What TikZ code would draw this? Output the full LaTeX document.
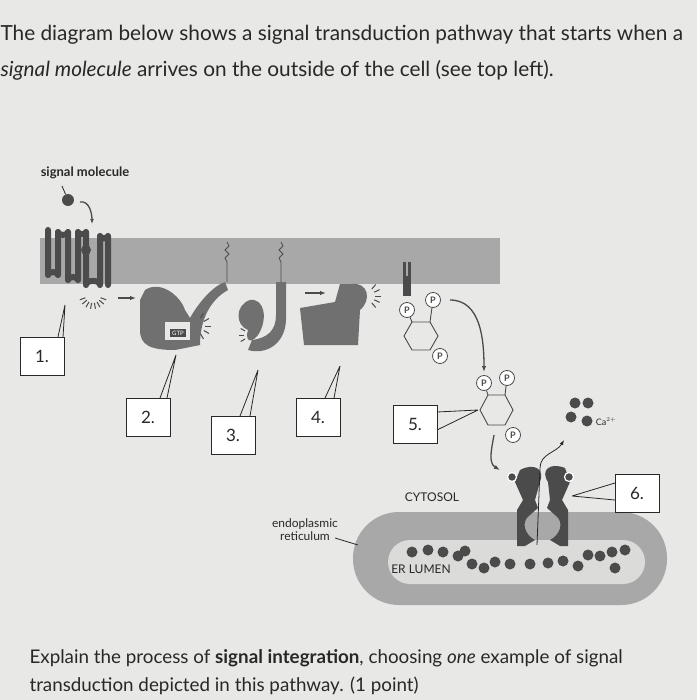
\documentclass[tikz,border=0pt]{standalone}
\usepackage{fontspec}
\setmainfont{Lato}
\usetikzlibrary{arrows.meta}
\definecolor{bg}{RGB}{232,232,230}
\definecolor{mem}{RGB}{168,168,168}
\definecolor{prot}{RGB}{112,112,112}
\definecolor{dark}{RGB}{75,75,75}
\definecolor{txt}{RGB}{40,40,40}
\tikzset{
 lbl/.style={draw=txt,fill=white,line width=1pt,minimum width=44pt,minimum height=38pt,font=\fontsize{17}{17}\selectfont,text=txt},
 pc/.style={circle,draw=dark,fill=white,line width=0.8pt,inner sep=0pt,minimum size=15pt,font=\fontsize{9}{9}\selectfont\bfseries,text=dark},
 small/.style={font=\fontsize{12}{13}\selectfont,text=txt,align=center},
 arr/.style={-{Latex[length=6pt]},line width=1.5pt,draw=dark},
 ca/.style={circle,fill=dark,inner sep=0pt,minimum size=11pt},
 pt/.style={line width=0.8pt,draw=txt}
}
\begin{document}
\begin{tikzpicture}[x=1pt,y=-1pt]
\fill[bg] (0,0) rectangle (697,700);
\useasboundingbox (0,0) rectangle (697,700);
\node[anchor=west,font=\fontsize{20.8}{22}\selectfont,text=txt] (t1) at (-3,35) {The diagram below shows a signal transduction pathway that starts when a};
\node[anchor=west,font=\fontsize{20.8}{22}\selectfont,text=txt] (t2) at (-3,70) {\textit{signal molecule} arrives on the outside of the cell (see top left).};
\node[anchor=west,font=\fontsize{18.8}{20}\selectfont,text=txt] (b1) at (26,658) {Explain the process of \textbf{signal integration}, choosing \textit{one} example of signal};
\node[anchor=west,font=\fontsize{18.8}{20}\selectfont,text=txt] (b2) at (26,686) {transduction depicted in this pathway. (1 point)};
% membrane
\fill[mem] (40,238) rectangle (500,284);
% signal molecule
\node[small,font=\fontsize{13}{13}\selectfont\bfseries] (sm) at (85,173) {signal molecule};
\node[circle,fill=dark,minimum size=12pt,inner sep=0pt] (lig) at (68,200) {};
\draw[pt] (62,186) -- (lig);
\coordinate (ligt) at (92,224);
\draw[-{Latex[length=5pt]},line width=1.3pt,dark] (80,202) to[out=10,in=90] (ligt);
% receptor
\draw[dark,line width=6pt,line cap=round,line join=round]
 (48,230) -- (48,275) to[out=90,in=90] (58,275) -- (58,232) to[out=-90,in=-90] (68,232) -- (68,280) to[out=90,in=90] (78,280) -- (78,232) to[out=-90,in=-90] (86,232) -- (86,285) to[out=90,in=90] (100,285) -- (100,236) to[out=-90,in=-90] (108,236) -- (108,285);
\fill[dark] (86,250) circle (5);
\foreach \a in {200,220,...,340}{\draw[dark,line width=1pt] (93,295)++(\a:-8) -- ++(\a:-6);}
% G protein
\draw[arr] (118,298) -- (136,298);
\fill[prot] (145,290) .. controls (160,280) and (180,295) .. (185,310) -- (190,318) .. controls (200,300) and (215,285) .. (225,282) -- (228,290) .. controls (210,300) and (200,320) .. (200,345) -- (175,350) .. controls (150,350) and (140,345) .. (140,330) -- (140,300) -- cycle;
\fill[bg] (165,322) rectangle (190,340);
\node[fill=dark,text=white,font=\fontsize{6}{6}\selectfont,inner sep=2pt] (gtp) at (178,333) {GTP};
\draw[dark,line width=0.8pt] (227,282) -- (227,262) -- (225,258) -- (229,254) -- (225,250) -- (229,246) -- (227,242);
\foreach \a in {-60,-30,0,30,60}{\draw[dark,line width=1pt] (196,326)++(\a:9) -- ++(\a:6);}
% 3: alpha + beta-gamma
\fill[prot] (250,300) .. controls (265,298) and (268,320) .. (258,335) .. controls (250,345) and (245,340) .. (248,330) .. controls (235,325) and (235,305) .. (250,300) -- cycle;
\fill[prot] (276,282) -- (286,282) -- (286,320) .. controls (285,345) and (265,355) .. (248,350) -- (252,340) .. controls (268,338) and (276,330) .. (276,315) -- cycle;
\draw[dark,line width=0.8pt] (281,282) -- (281,262) -- (279,258) -- (283,254) -- (279,250) -- (283,246) -- (281,242);
\foreach \a in {150,180,210}{\draw[dark,line width=1pt] (252,335)++(\a:8) -- ++(\a:5);}
\draw[arr] (305,293) -- (326,293);
% 4: enzyme
\fill[prot] (300,308) -- (335,302) -- (340,284) -- (352,284) .. controls (368,282) and (372,300) .. (360,310) -- (358,345) -- (304,345) -- cycle;
\foreach \a in {-50,-25,0,25,50}{\draw[dark,line width=1pt] (366,296)++(\a:9) -- ++(\a:6);}
% PIP2
\fill[dark] (403,262) rectangle (411,296);
\fill[mem] (406,262) rectangle (408,276);
\node[pc] (p1) at (407,310) {P};
\node[pc] (p2) at (433,300) {P};
\draw[dark,line width=0.9pt] (412,322) -- (430,322) -- (438,336) -- (430,350) -- (412,350) -- (404,336) -- cycle;
\draw[dark,line width=0.9pt] (430,322) -- (p2);
\draw[dark,line width=0.9pt] (412,322) -- (p1);
\node[pc] (p3) at (440,356) {P};
\draw[arr,line width=1.3pt] (450,300) to[out=0,in=90] (484,372);
% IP3
\node[pc] (q1) at (484,383) {P};
\node[pc] (q2) at (507,378) {P};
\draw[dark,line width=0.9pt] (488,395) -- (505,395) -- (513,410) -- (505,425) -- (488,425) -- (480,410) -- cycle;
\node[pc] (q3) at (513,435) {P};
\draw[dark,line width=0.9pt] (q1) -- (488,395) (q2) -- (505,395);
\draw[arr,line width=1.3pt] (494,435) to[out=-100,in=150] (500,470);
% ER
\fill[mem,rounded corners=46pt] (353,512) rectangle (667,605);
\fill[bg!80!mem,rounded corners=22pt] (388,540) rectangle (645,584);
% channel
\fill[dark] (520,470) .. controls (535,462) and (545,470) .. (540,482) -- (535,500) -- (538,508) -- (530,515) .. controls (520,522) and (525,535) .. (535,540) -- (525,546) -- (517,546) -- (517,510) -- (523,500) -- (515,482) -- cycle;
\fill[dark] (565,468) .. controls (550,462) and (540,470) .. (548,482) -- (550,500) -- (547,508) -- (555,515) .. controls (565,522) and (560,535) .. (550,540) -- (560,546) -- (568,546) -- (568,510) -- (562,500) -- (570,482) -- cycle;
\draw[white,line width=1.2pt,fill=dark] (512,477) circle (4.5);
\draw[white,line width=1.2pt,fill=dark] (569,477) circle (4.5);
\draw[-{Latex[length=5pt]},line width=0.8pt,txt] (537,545) -- (540,468) to[out=90,in=-120] (564,440);
% Ca
\foreach \p in {(575,403),(588,403),(571,417),(587,421)}{\node[ca] at \p {};}
\node[small,font=\fontsize{9}{9}\selectfont] (ca) at (606,422) {Ca$^{2+}$};
\foreach \p in {(412,552),(428,550),(443,552),(458,556),(465,551),(472,564),(484,568),(495,562),(510,564),(530,564),(548,563),(563,561),(578,566),(588,555),(600,556),(612,552),(615,568),(625,550)}{\node[ca] at \p {};}
% texts
\node[small,font=\fontsize{12}{13}\selectfont] (cyt) at (432,497) {CYTOSOL};
\node[small,font=\fontsize{12}{13}\selectfont] (lum) at (421,569) {ER LUMEN};
\node[small,font=\fontsize{12}{13}\selectfont,align=center] (endo) at (305,530) {endoplasmic\\reticulum};
\draw[pt] (335,538) -- (358,545);
% label boxes
\node[lbl] (L1) at (42,356) {1.};
\draw[pt] (58,337) -- (65,305) -- (63,337);
\node[lbl] (L2) at (148,417) {2.};
\draw[pt] (160,398) -- (176,355) (167,398) -- (176,355);
\node[lbl] (L3) at (233,435) {3.};
\draw[pt] (240,416) -- (258,370) (250,416) -- (258,370);
\node[lbl] (L4) at (318,417) {4.};
\draw[pt] (325,398) -- (340,366) (334,398) -- (340,366);
\node[lbl] (L5) at (415,424) {5.};
\draw[pt] (437,412) -- (478,410) (437,430) -- (478,410);
\node[lbl] (L6) at (637,493) {6.};
\draw[pt] (615,483) -- (572,496) (615,500) -- (572,496);
\end{tikzpicture}
\end{document}
